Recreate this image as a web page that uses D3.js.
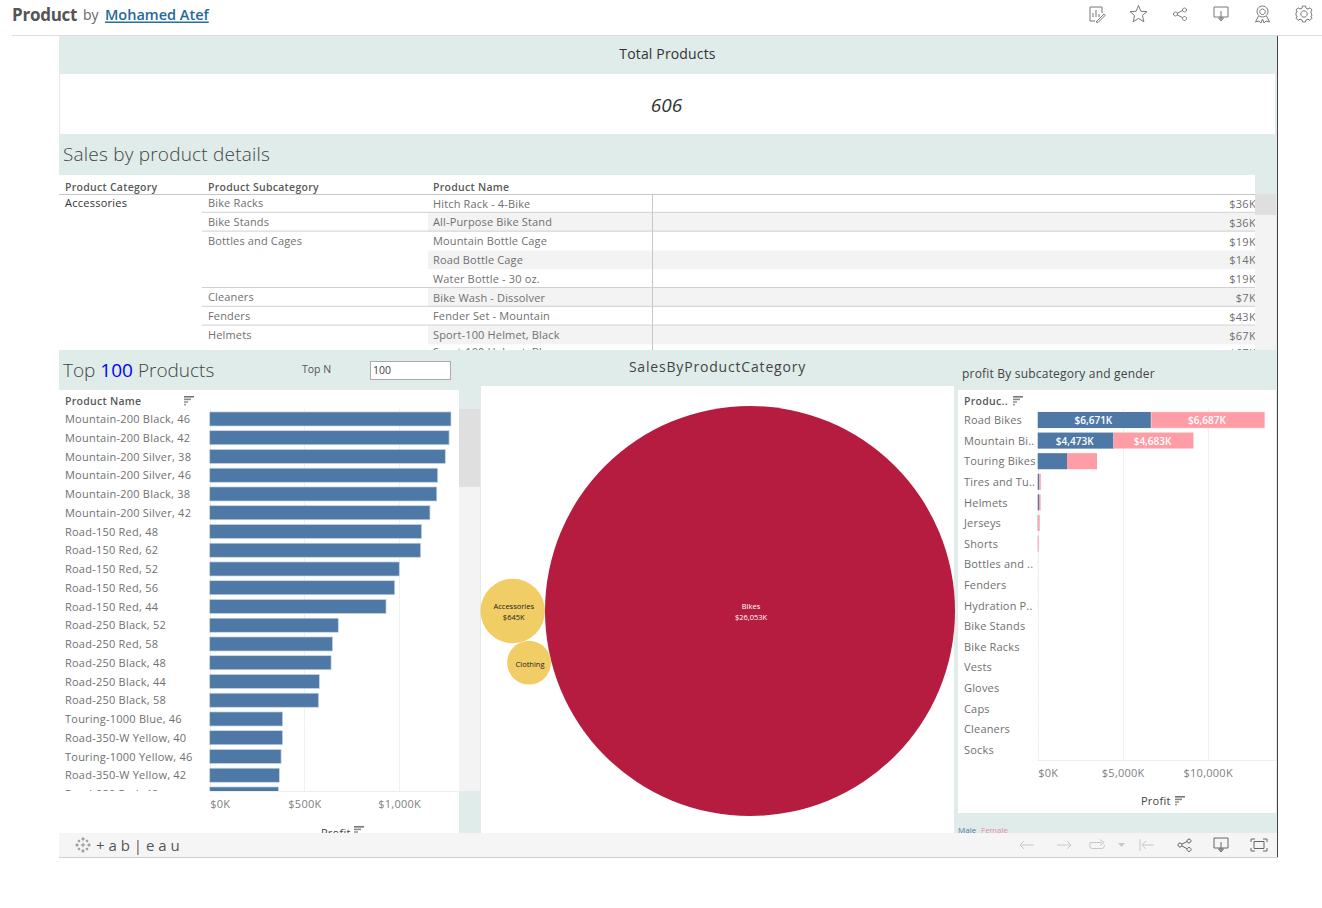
<!DOCTYPE html>
<html>
<head>
<meta charset="utf-8">
<title>Product</title>
<script src="https://cdn.jsdelivr.net/npm/d3@7"></script>
<style>
html,body{margin:0;padding:0;background:#fff;overflow:hidden}
svg{display:block}
text{font-family:"Open Sans",sans-serif}
</style>
</head>
<body>
<div id="chart"></div>
<script>
// ---- Sales table ----
const tableHeaders = ["Product Category", "Product Subcategory", "Product Name"];
const tableCategory = "Accessories";
const tableSubcategories = ["Bike Racks","Bike Stands","Bottles and Cages","","","Cleaners","Fenders","Helmets",""];
const tableNames = ["Hitch Rack - 4-Bike","All-Purpose Bike Stand","Mountain Bottle Cage","Road Bottle Cage","Water Bottle - 30 oz.","Bike Wash - Dissolver","Fender Set - Mountain","Sport-100 Helmet, Black","Sport-100 Helmet, Blue"];
const tableSales = [36,36,19,14,19,7,43,67,67];

// ---- Top products ----
const topNames = ["Mountain-200 Black, 46","Mountain-200 Black, 42","Mountain-200 Silver, 38","Mountain-200 Silver, 46","Mountain-200 Black, 38","Mountain-200 Silver, 42","Road-150 Red, 48","Road-150 Red, 62","Road-150 Red, 52","Road-150 Red, 56","Road-150 Red, 44","Road-250 Black, 52","Road-250 Red, 58","Road-250 Black, 48","Road-250 Black, 44","Road-250 Black, 58","Touring-1000 Blue, 46","Road-350-W Yellow, 40","Touring-1000 Yellow, 46","Road-350-W Yellow, 42","Road-250 Red, 48"];
const topProfit = [1274,1264,1244,1204,1199,1163,1119,1114,1001,977,931,679,649,641,579,575,385,385,377,368,363];
const topTicks = [0,500,1000];

// ---- Bubbles ----
const bubbleNames = ["Bikes","Accessories","Clothing"];
const bubbleSales = [26053,645,298];
const bubbleLabels = ["$26,053K","$645K",""];

// ---- Subcategory / gender ----
const subNames = ["Road Bikes","Mountain Bi..","Touring Bikes","Tires and Tu..","Helmets","Jerseys","Shorts","Bottles and ..","Fenders","Hydration P..","Bike Stands","Bike Racks","Vests","Gloves","Caps","Cleaners","Socks"];
const subMale = [6671,4473,1725,90,75,25,8,2,2,2,1,1,1,1,1,1,1];
const subFemale = [6687,4683,1765,90,95,95,50,2,2,2,1,1,1,1,1,1,1];
const subLabelled = [true,true,false,false,false,false,false,false,false,false,false,false,false,false,false,false,false];
const subTicks = [0,5000,10000];
const genders = ["Male","Female"];

const TEAL="#dfece9", BLUE="#4e79a7", PINK="#ff9da7", CRIMSON="#b61c3f", GOLD="#f1cd66";
const money = d => "$" + d3.format(",")(d) + "K";

const svg = d3.select("#chart").append("svg").attr("width",1322).attr("height",908);
const defs = svg.append("defs");
function clip(id,x,y,w,h){defs.append("clipPath").attr("id",id).append("rect").attr("x",x).attr("y",y).attr("width",w).attr("height",h);}
function rect(p,x,y,w,h,f){return p.append("rect").attr("x",x).attr("y",y).attr("width",w).attr("height",h).attr("fill",f);}
function line(p,x1,y1,x2,y2,s,sw){return p.append("line").attr("x1",x1).attr("y1",y1).attr("x2",x2).attr("y2",y2).attr("stroke",s).attr("stroke-width",sw||1);}
function text(p,x,y,t,size,fill,opt){
  opt=opt||{};
  return p.append("text").attr("x",x).attr("y",y).attr("dominant-baseline","central")
    .attr("font-size",size).attr("fill",fill).attr("text-anchor",opt.anchor||"start")
    .attr("font-weight",opt.weight||400).attr("font-style",opt.style||"normal")
    .style("letter-spacing",(opt.ls||0)+"px").text(t);
}

// ---- Page header ----
text(svg,12,14,"Product",17,"#555",{weight:700,ls:-.25});
text(svg,83,14,"by",14,"#666");
text(svg,105,14,"Mohamed Atef",14.5,"#1f6a9c",{weight:600}).attr("text-decoration","underline");
line(svg,12,35.5,1322,35.5,"#dedede");

// ---- Dashboard ground ----
rect(svg,59,36,1218,797,TEAL);
line(svg,1277.5,36,1277.5,857,"#444");
rect(svg,60,74,1215,60,"#fff");
text(svg,667.5,53.5,"Total Products",14,"#333",{anchor:"middle",ls:.15});
text(svg,666.5,105,"606",19,"#333",{anchor:"middle",style:"italic"});
text(svg,63,154,"Sales by product details",19,"#444",{weight:300,ls:.2});

// ---- Table ----
clip("tbl",59,175,1196,175);
const T = svg.append("g").attr("clip-path","url(#tbl)");
rect(svg,1255,194,21,156,"#f3f3f3");
rect(svg,1255,194,21,21,"#dfdfdf");
rect(T,59,175,1196,175,"#fff");
const rowY = d3.scaleBand().domain(d3.range(tableNames.length)).range([194,194+18.8*tableNames.length]);
const tableCols=[65,208,433];
tableHeaders.forEach((h,i)=>text(T,tableCols[i],186.5,h,10.5,"#5a5a5a",{weight:600,ls:.28}));
T.selectAll("rect.band").data(tableNames.filter((d,i)=>i%2===1)).join("rect").attr("class","band")
  .attr("x",428).attr("width",827).attr("y",d=>rowY(tableNames.indexOf(d))).attr("height",rowY.bandwidth()).attr("fill","#f3f3f3");
line(T,59,194.5,1255,194.5,"#c8c8c8");
line(T,652.5,194,652.5,350,"#c8c8c8");
tableSubcategories.forEach((s,i)=>{
  if(s && i>0) line(T,202,rowY(i)-.5,1255,rowY(i)-.5,"#d0d0d0");
  if(s) text(T,208,rowY(i)+8.5,s,11,"#707070",{ls:.15});
});
tableNames.forEach((n,i)=>{
  const dy = i===8 ? 7.5 : 9;
  text(T,433,rowY(i)+dy,n,11,"#707070",{ls:.15});
  text(T,1256,rowY(i)+dy+.5,"$"+tableSales[i]+"K",11,"#707070",{anchor:"end",ls:.3});
});
text(T,65,202,tableCategory,11,"#333",{ls:.25});
line(svg,950,350.5,1255,350.5,"#c8c8c8");
rect(svg,59,350,1218,40,TEAL);

// ---- Top N panel ----
const topTitle = text(svg,63,370,"",19,"#444",{weight:300});
topTitle.append("tspan").text("Top ");
topTitle.append("tspan").attr("fill","#0000ff").attr("font-weight",400).text("100");
topTitle.append("tspan").text(" Products");
text(svg,302,369,"Top N",10.5,"#555");
rect(svg,370.5,361.5,80,18,"#fff").attr("stroke","#aaa");
text(svg,373,370,"100",10.5,"#444");
rect(svg,59,390,400,443,"#fff");
rect(svg,459,409,21,382,"#f3f3f3");
rect(svg,459,409,21,78,"#dfdfdf");

const xTop = d3.scaleLinear().domain([0,1000]).range([209.7,209.7+189.4]);
const yTop = d3.scaleBand().domain(topNames).range([409.6,409.6+18.75*topNames.length]).paddingInner(.25).paddingOuter(.125);
clip("topClip",59,390,400,401);
const topG = svg.append("g");
function axis(g,x,ticks,yBottom,yTop_,xEnd){
  const a = g.append("g").attr("transform",`translate(0,${yBottom})`).call(d3.axisBottom(x).tickValues(ticks).tickFormat(money).tickSize(0).tickPadding(9));
  a.select(".domain").remove();
  a.selectAll("text").attr("font-size",11).attr("fill","#808080").style("font-family",'"Open Sans",sans-serif').style("letter-spacing",".25px");
  a.selectAll(".tick").filter(d=>d===0).select("text").attr("text-anchor","start");
  ticks.forEach(t=>line(g,Math.round(x(t))+.5,yTop_,Math.round(x(t))+.5,yBottom,"#f0f0f0"));
  line(g,x(0),yBottom+.5,xEnd,yBottom+.5,"#eeeeee");
}
axis(topG,xTop,topTicks,791,409,459);
const topClipped = topG.append("g").attr("clip-path","url(#topClip)");
topClipped.selectAll("rect").data(topNames).join("rect")
  .attr("x",xTop(0)).attr("y",d=>yTop(d)).attr("height",yTop.bandwidth())
  .attr("width",(d,i)=>xTop(topProfit[i])-xTop(0))
  .attr("fill",BLUE).attr("stroke","#c9d6e4").attr("stroke-width",.7);
topClipped.selectAll("text").data(topNames).join("text")
  .attr("x",65).attr("y",d=>yTop(d)+yTop.bandwidth()/2-.3).attr("dominant-baseline","central")
  .attr("font-size",11).attr("fill","#707070").style("letter-spacing",".23px").text(d=>d);
text(svg,65,401,"Product Name",10.5,"#5a5a5a",{weight:600,ls:.28});
function sortIcon(g,x,y){
  [[10,"#777"],[7,"#888"],[4,"#999"],[2,"#999"]].forEach((d,i)=>rect(g,x,y+i*2.6,d[0],1.6,d[1]));
}
sortIcon(svg,184,396);
text(svg,321,832.5,"Profit",11,"#444",{ls:.25});
sortIcon(svg,354,826);

// ---- Bubble panel ----
text(svg,717.5,366.5,"SalesByProductCategory",14,"#444",{anchor:"middle",ls:.82});
rect(svg,481,386,473,447,"#fff");
const rScale = d3.scaleSqrt().domain([0,d3.max(bubbleSales)]).range([0,205]);
const packed = d3.packSiblings(bubbleNames.map((n,i)=>({name:n,r:rScale(bubbleSales[i]),label:bubbleLabels[i]})));
const bx0 = 750 + packed[0].x, by0 = 611 - packed[0].y;
const bubbleG = svg.append("g");
const nodes = bubbleG.selectAll("g").data(packed).join("g").attr("transform",d=>`translate(${bx0-d.x},${by0+d.y})`);
nodes.append("circle").attr("r",d=>d.r).attr("fill",(d,i)=>i===0?CRIMSON:GOLD);
nodes.each(function(d,i){
  const n=d3.select(this), c=i===0?"#fff":"#222";
  if(d.label){
    text(n,1,-5,d.name,7.5,c,{anchor:"middle"});
    text(n,1,6,d.label,7.5,c,{anchor:"middle"});
  } else text(n,1,1,d.name,7.5,c,{anchor:"middle"});
});

// ---- Subcategory panel ----
text(svg,962,373.5,"profit By subcategory and gender",12,"#444",{ls:.2});
rect(svg,958,390,318,423,"#fff");
const xSub = d3.scaleLinear().domain([0,5000]).range([1037.7,1037.7+85]);
const ySub = d3.scaleBand().domain(subNames).range([409.7,409.7+20.6*subNames.length]).paddingInner(.22).paddingOuter(.11);
const subG = svg.append("g");
axis(subG,xSub,subTicks,760,409,1276);
subNames.forEach((n,i)=>{
  const y=ySub(n),h=ySub.bandwidth(),m=subMale[i],f=subFemale[i];
  rect(subG,xSub(0),y,xSub(m)-xSub(0),h,BLUE);
  rect(subG,xSub(m),y,xSub(m+f)-xSub(m),h,PINK).attr("stroke",i<2?"#ffd0d5":"none").attr("stroke-width",.6);
  text(subG,964,y+h/2-.4,n,11,"#707070",{ls:.17});
  if(subLabelled[i]){
    text(subG,(xSub(0)+xSub(m))/2-1,y+h/2,money(m),10,"#fff",{anchor:"middle",weight:600});
    text(subG,(xSub(m)+xSub(m+f))/2-1,y+h/2,money(f),10,"#fff",{anchor:"middle",weight:600});
  }
});
text(svg,964,401,"Produc..",10.5,"#5a5a5a",{weight:600,ls:.28});
sortIcon(svg,1013,396);
text(svg,1141,800.5,"Profit",11,"#444",{ls:.25});
sortIcon(svg,1175,796);
genders.forEach((g,i)=>text(svg,[958,981][i],829,g,8,i?"#e88aa8":"#4e79a7"));

// ---- Bottom toolbar ----
rect(svg,59,833,1218,24,"#f5f5f5");
line(svg,59,857.5,1278,857.5,"#cfcfcf");
line(svg,1277.5,833,1277.5,857,"#444");
// logo
const logo = svg.append("g").attr("transform","translate(83,845)").attr("stroke","#777").attr("fill","none");
[[0,-6,1.8],[0,6,1.8],[-6,0,1.8],[6,0,1.8],[-4,-4,1.3],[4,-4,1.3],[-4,4,1.3],[4,4,1.3],[0,0,2.2]].forEach(d=>{
  logo.append("path").attr("stroke-width",.8).attr("d",`M${d[0]-d[2]},${d[1]}H${d[0]+d[2]}M${d[0]},${d[1]-d[2]}V${d[1]+d[2]}`);
});
text(svg,96,844.5,"+ a b | e a u",15,"#555");

function icons(items){
  items.forEach(it=>{
    svg.append("path").attr("transform",`translate(${it[0]},${it[1]})`).attr("d",it[2])
      .attr("fill","none").attr("stroke",it[3]).attr("stroke-width",1);
  });
}
const SHARE="M5,-6a2,2 0 1 0 .01,0M5,2.5a2,2 0 1 0 .01,0M-4,-2a2,2 0 1 0 .01,0M-2.2,-.8L3.2,-3.5M-2.2,1L3.2,3.7";
const DOWN="M-7,-7H7V3H-7ZM0,-3V6M-2.5,4L0,7L2.5,4Z";
icons([
 [1097,14,"M-7,-7H5V-1M-7,-7V7H-2M-4,3V-1M-1,3V-4M2,3V0M-1,8L7,0L8,1.5L1,8.5Z","#777"],
 [1138.5,14,"M0,-8.5L2.4,-2.7L8.5,-2.4L3.9,1.5L5.4,7.8L0,4.4L-5.4,7.8L-3.9,1.5L-8.5,-2.4L-2.4,-2.7Z","#777"],
 [1179.5,14,SHARE,"#777"],
 [1221,14,DOWN,"#777"],
 [1262.5,14,"M0,-8a5.5,5.5 0 1 0 .01,0M0,-5a2.8,2.8 0 1 0 .01,0M-4,2L-7,8L-3.5,7L-1.5,9L0,5L1.5,9L3.5,7L7,8L4,2","#777"],
 [1304,14,"M0,-3.2a3.2,3.2 0 1 0 .01,0M-1.5,-8H1.5L2,-5.8L4,-5L6,-6.2L8,-4L6.8,-2L7.5,0L8,1.5L6.8,2.2L8,4.2L6,6.4L4,5.2L2,6L1.5,8H-1.5L-2,6L-4,5.2L-6,6.4L-8,4.2L-6.8,2.2L-8,1.5V-1.5L-6.8,-2L-8,-4L-6,-6.2L-4,-5L-2,-5.8Z","#777"],
 [1027,845,"M7,0H-7M-3,-4L-7,0L-3,4","#c8c8c8"],
 [1064,845,"M-7,0H7M3,-4L7,0L3,4","#c8c8c8"],
 [1097,845,"M-7,-2.5H5M3,-5.5L7,-2.5L3,.5M-7,-2.5Q-8,3.5 -5,3.5H5Q7.5,3.5 7.5,0","#c8c8c8"],
 [1147,845,"M-7,-6V6M7,0H-5M-1,-4L-5,0L-1,4","#c8c8c8"],
 [1184,845,SHARE,"#666"],
 [1221,845,DOWN,"#666"],
 [1259,845,"M-8,-3V-6H-4M4,-6H8V-3M8,3V6H4M-4,6H-8V3M-5,-3.5H5V3.5H-5Z","#666"]
]);
svg.append("path").attr("transform","translate(1121.5,845)").attr("d","M-3.5,-2H3.5L0,2Z").attr("fill","#c8c8c8");
</script>
</body>
</html>
